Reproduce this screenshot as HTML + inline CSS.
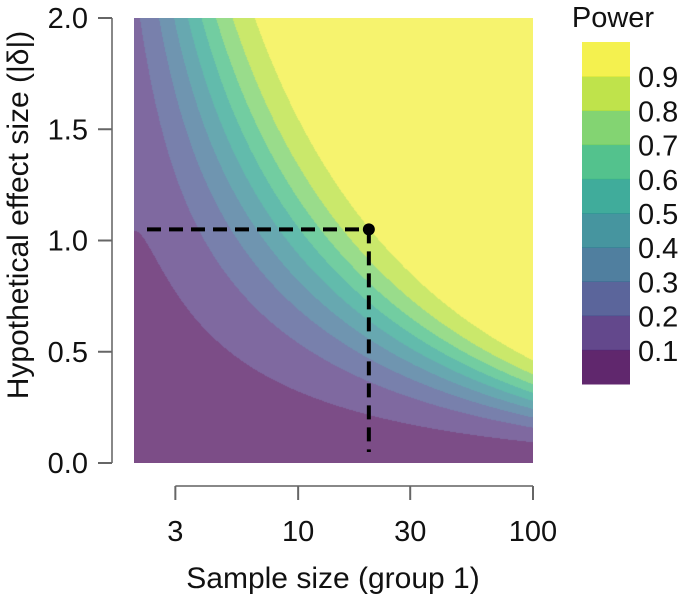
<!DOCTYPE html>
<html><head><meta charset="utf-8"><style>
body{margin:0;background:#fff;width:685px;height:597px;overflow:hidden;font-family:"Liberation Sans",sans-serif}
#wrap{position:relative;width:685px;height:597px}
canvas{position:absolute;left:134px;top:18px}
svg{position:absolute;left:0;top:0}
</style></head><body>
<div id="wrap">
<canvas id="cv" width="399" height="445"></canvas>
<svg id="sv" width="685" height="597"></svg>
</div>
<script>
const levels=[0,0.1,0.2,0.3,0.4,0.5,0.6,0.7,0.8,0.9,1.0];
const colors=["#440154","#482878","#3E4A89","#31688E","#26828E","#1F9E89","#35B779","#6DCD59","#B4DE2C","#F2EE30"];
const xTicks=[3,10,30,100];
const yTicks=[0,0.5,1.0,1.5,2.0];
const legendLabels=["0.1","0.2","0.3","0.4","0.5","0.6","0.7","0.8","0.9"];
const markN=[20];
const markD=[1.05];
const xMin=2,xMax=100,yMin=0,yMax=2;
const L=134,R=533,T=18,B=463;
function sx(n){return L+(Math.log10(n)-Math.log10(xMin))/(Math.log10(xMax)-Math.log10(xMin))*(R-L);}
function sy(d){return B-(d-yMin)/(yMax-yMin)*(B-T);}
function phi(x){const t=1/(1+0.2316419*Math.abs(x));const d=0.3989423*Math.exp(-x*x/2);let p=d*t*(0.3193815+t*(-0.3565638+t*(1.781478+t*(-1.821256+t*1.330274))));return x>0?1-p:p;}
function tcrit(df){const z=1.959964;return z+(z**3+z)/(4*df)+(5*z**5+16*z**3+3*z)/(96*df*df)+(3*z**7+19*z**5+17*z**3-15*z)/(384*df**3);}
function power(n,d){const df=2*n-2;const tc=tcrit(df);const ncp=d*Math.sqrt(n/2);const s=Math.sqrt(1+tc*tc/(2*df));return phi((ncp-tc)/s)+phi((-ncp-tc)/s);}
function hex(c){return [parseInt(c.slice(1,3),16),parseInt(c.slice(3,5),16),parseInt(c.slice(5,7),16)];}
const cv=document.getElementById('cv');const ctx=cv.getContext('2d');
const W=cv.width,H=cv.height;const img=ctx.createImageData(W,H);
const rgb=colors.map(hex);const a=0.7;
for(let j=0;j<H;j++){const d=yMax-(j+0.5)/H*(yMax-yMin);for(let i=0;i<W;i++){const n=Math.pow(10,Math.log10(xMin)+(i+0.5)/W*(Math.log10(xMax)-Math.log10(xMin)));const p=power(n,d);let k=0;while(k<colors.length-1&&p>=levels[k+1])k++;const c=rgb[k];const o=(j*W+i)*4;img.data[o]=a*c[0]+(1-a)*255;img.data[o+1]=a*c[1]+(1-a)*255;img.data[o+2]=a*c[2]+(1-a)*255;img.data[o+3]=255;}}
ctx.putImageData(img,0,0);
const sv=document.getElementById('sv');const NS="http://www.w3.org/2000/svg";
function el(t,at,txt){const e=document.createElementNS(NS,t);for(const k in at)e.setAttribute(k,at[k]);if(txt!==undefined)e.textContent=txt;sv.appendChild(e);return e;}
let e;const FS=29;
e=el('line',{x1:sx(xTicks[0]),x2:sx(xTicks[xTicks.length-1]),y1:486,y2:486,stroke:'#888','stroke-width':2});

xTicks.forEach(v=>{const x=sx(v);
e=el('line',{x1:x,x2:x,y1:486,y2:500,stroke:'#666','stroke-width':2});

e=el('text',{x:x,y:541,'text-anchor':'middle','font-size':FS,fill:'#111'},String(v));
});
e=el('line',{x1:112,x2:112,y1:sy(yTicks[0]),y2:sy(yTicks[yTicks.length-1]),stroke:'#888','stroke-width':2});

yTicks.forEach(v=>{const y=sy(v);
e=el('line',{x1:98,x2:112,y1:y,y2:y,stroke:'#666','stroke-width':2});

e=el('text',{x:88,y:y+10,'text-anchor':'end','font-size':FS,fill:'#111'},v.toFixed(1));
});
e=el('text',{x:333,y:588,'text-anchor':'middle','font-size':30,fill:'#111'},'Sample size (group 1)');

e=el('text',{x:28,y:215,'text-anchor':'middle','font-size':30,fill:'#111',transform:'rotate(-90 28 215)'},'Hypothetical effect size (|δ|)');

const mx=sx(markN[0]),my=sy(markD[0]);
e=el('line',{x1:147,x2:mx,y1:my,y2:my,stroke:'#000','stroke-width':4,'stroke-dasharray':'14,8'});

e=el('line',{x1:mx,x2:mx,y1:my,y2:452,stroke:'#000','stroke-width':4,'stroke-dasharray':'14,8'});

e=el('circle',{cx:mx,cy:my,r:6,fill:'#000'});

const lx=582,lw=48,lt=42,lb=384,bh=(lb-lt)/colors.length;
colors.forEach((c,k)=>{e=el('rect',{x:lx,y:lb-(k+1)*bh,width:lw,height:bh+0.5,fill:c,'fill-opacity':0.85});
});
legendLabels.forEach((s,k)=>{e=el('text',{x:638,y:lb-(k+1)*bh+11,'font-size':FS,fill:'#111'},s);
});
e=el('text',{x:613,y:27,'text-anchor':'middle','font-size':FS,fill:'#111'},'Power');

</script>
</body></html>
